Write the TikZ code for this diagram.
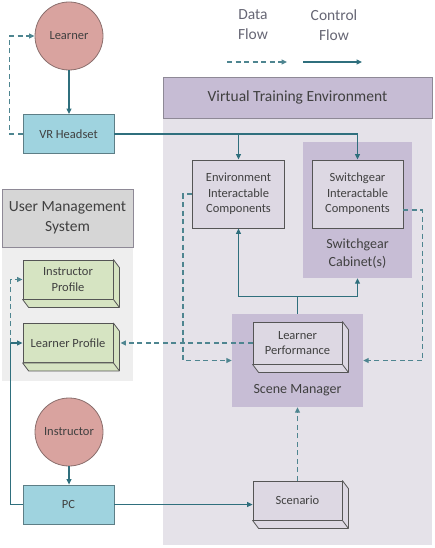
\documentclass[tikz,border=0pt]{standalone}
\usepackage{fontspec}
\setmainfont{Carlito}
\usetikzlibrary{arrows.meta}

\definecolor{flowteal}{HTML}{2F6F7D}
\definecolor{vteback}{HTML}{E5E2E9}
\definecolor{vtehead}{HTML}{C6BCD4}
\definecolor{boxpurple}{HTML}{C7BDD5}
\definecolor{innerfill}{HTML}{DDD8E3}
\definecolor{circlered}{HTML}{D9A39F}
\definecolor{circleedge}{HTML}{8A6E6C}
\definecolor{headblue}{HTML}{9FD3DF}
\definecolor{devedge}{HTML}{5D7E86}
\definecolor{umshead}{HTML}{D6D6D6}
\definecolor{umsback}{HTML}{EEEEEE}
\definecolor{profgreen}{HTML}{D6E4C2}
\definecolor{textgray}{HTML}{404040}
\definecolor{legendgray}{HTML}{666674}
\definecolor{bordergray}{HTML}{555555}
\definecolor{headedge}{HTML}{8E8996}

\tikzset{
	actor/.style={shape=circle,draw=circleedge,fill=circlered,minimum size=68pt,inner sep=0pt,line width=0.8pt},
	device/.style={shape=rectangle,draw=devedge,fill=headblue,minimum width=91pt,minimum height=39pt,inner sep=0pt,line width=0.8pt},
	part/.style={shape=rectangle,draw=bordergray,fill=innerfill,minimum width=92pt,minimum height=68pt,inner sep=0pt,align=center,line width=0.9pt},
	cuboid/.style={shape=rectangle,draw=bordergray,fill=#1,minimum width=90pt,minimum height=39pt,inner sep=0pt,align=center,line width=0.8pt},
	groupbox/.style={shape=rectangle,fill=boxpurple,inner sep=0pt},
	grouplabel/.style={align=center,font=\fontsize{14}{18}\selectfont},
	heading/.style={shape=rectangle,draw=headedge,inner sep=0pt,align=center,font=\fontsize{15.5}{20}\selectfont},
	legendtext/.style={align=center,text=legendgray,font=\fontsize{15.5}{20}\selectfont},
	ctrlflow/.style={draw=flowteal,line width=1.2pt,-{Triangle[length=5.5pt,width=5pt]}},
	dataflow/.style={ctrlflow,draw=flowteal!85,dash pattern=on 5pt off 3.5pt},
}

\begin{document}
\begin{tikzpicture}[x=1pt,y=-1pt,every node/.style={text=textgray,font=\fontsize{12.5}{15.5}\selectfont}]
	\useasboundingbox (0,0) rectangle (435,548);
	
	% backgrounds
	\node[shape=rectangle,fill=vteback,minimum width=269pt,minimum height=428pt,inner sep=0pt] (vteback) at (297.5,331) {};
	\node[shape=rectangle,fill=umsback,minimum width=131pt,minimum height=134pt,inner sep=0pt] (umsback) at (67.5,314) {};
	\node[heading,fill=vtehead,minimum width=269pt,minimum height=41pt] (vtetitle) at (297.5,97.5) {Virtual Training Environment};
	\node[heading,fill=umshead,minimum width=131pt,minimum height=58pt] (umstitle) at (67.5,218) {User Management\\System};
	
	% legend
	\node[legendtext] (datalabel) at (253,25) {Data\\Flow};
	\node[legendtext] (ctrllabel) at (334,25) {Control\\Flow};
	\coordinate (d1) at (227,62);
	\coordinate (d2) at (287,62);
	\coordinate (c1) at (303,62);
	\coordinate (c2) at (362,62);
	
	% learner side
	\node[actor] (learner) at (69,36) {Learner};
	\node[device] (headset) at (68.5,134) {VR Headset};
	\node[actor] (instructor) at (69,432) {Instructor};
	\node[device] (pc) at (68.5,504.5) {PC};
	
	% user management
	\node[cuboid=profgreen] (iprof) at (68,279.5) {Instructor\\Profile};
	\node[cuboid=profgreen] (lprof) at (68,343) {Learner Profile};
	
	% virtual training environment
	\node[groupbox,minimum width=109pt,minimum height=136pt] (swcab) at (357.5,210) {};
	\node[grouplabel] (cablabel) at (357.5,254) {Switchgear\\Cabinet(s)};
	\node[part] (env) at (238.5,194) {Environment\\Interactable\\Components};
	\node[part,minimum width=91pt] (swint) at (357.5,194) {Switchgear\\Interactable\\Components};
	\node[groupbox,minimum width=131pt,minimum height=93pt] (scene) at (297.5,360.5) {};
	\node[grouplabel] (scenelabel) at (297.5,390) {Scene Manager};
	\node[cuboid=innerfill,minimum width=89pt,minimum height=42pt] (perf) at (297.5,343) {Learner\\Performance};
	\node[cuboid=innerfill,minimum width=89pt] (scen) at (297.5,500.5) {Scenario};
	
	% depth of the 3d boxes
	\foreach \n/\c in {iprof/profgreen,lprof/profgreen,perf/innerfill,scen/innerfill}{
		\draw[draw=bordergray,fill=\c,line width=0.8pt,line join=round] (\n.north east) -- ++(6,8) -- ([shift={(6,8)}]\n.south east) -- ([shift={(6,8)}]\n.south west) -- (\n.south west) -- (\n.south east) -- cycle;
		\draw[bordergray,line width=0.8pt] (\n.south east) -- ++(6,8);
	}
	
	% legend arrows
	\draw[dataflow] (d1) -- (d2);
	\draw[ctrlflow] (c1) -- (c2);
	
	% control flow
	\draw[ctrlflow] (learner.south) -- (learner.south |- headset.north);
	\draw[ctrlflow] (headset.east) -| (swint.north);
	\draw[ctrlflow] (headset.east -| env.north) -- (env.north);
	\coordinate (split) at ([yshift=17pt]scene.north);
	\draw[ctrlflow] (scene.north) -- (split) -| (env.south);
	\draw[ctrlflow] (split) -| (swcab.south);
	\draw[ctrlflow] (instructor.south) -- (instructor.south |- pc.north);
	\draw[ctrlflow] (pc.east) -- (pc.east -| scen.west);
	\draw[ctrlflow] (pc.west) -- ++(-12,0) coordinate (pcbend) |- (lprof.west);
	
	% data flow
	\draw[dataflow] (headset.west) -- ++(-13,0) |- (learner.west);
	\draw[dataflow] (pcbend |- lprof.west) |- (iprof.west);
	\draw[dataflow] (env.west) -- ++(-9,0) |- (scene.west);
	\draw[dataflow] ([yshift=-16pt]swint.east) -- ++(19,0) |- (scene.east);
	\draw[dataflow] (perf.west) -- ([xshift=7pt]lprof.east);
	\draw[dataflow] (scen.north) -- (scene.south);
\end{tikzpicture}
\end{document}
